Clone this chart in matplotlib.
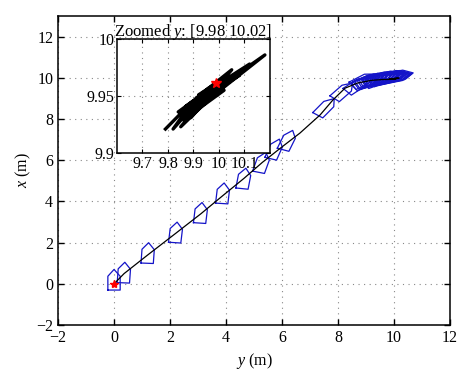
import numpy as np
import matplotlib
matplotlib.use("Agg")
import matplotlib.pyplot as plt

plt.rcParams['font.family'] = ['Liberation Serif', 'DejaVu Serif']
plt.rcParams['mathtext.fontset'] = 'custom'
plt.rcParams['mathtext.rm'] = 'Liberation Serif'
plt.rcParams['mathtext.it'] = 'Liberation Serif:italic'

# trajectory (horizontal = y, vertical = x)
traj_y = [0.0, 0.36, 1.2, 2.2, 3.1, 3.9, 4.64, 5.3, 6.0, 6.64, 7.36, 7.82, 8.25,
          8.7, 9.2, 9.6, 9.79]
traj_x = [0.0, 0.5, 1.4, 2.45, 3.4, 4.3, 5.12, 5.9, 6.65, 7.32, 8.2, 8.93, 9.5,
          9.75, 9.88, 9.92, 9.921]

# final jitter around the goal (seen in the zoomed inset)
jit_y = [9.79, 9.90, 9.82, 9.95, 9.84, 9.97, 9.85, 9.99, 9.87, 10.02, 9.86,
         9.96, 9.89, 10.05, 9.91, 10.12, 9.93, 10.18, 9.95, 10.08, 9.92, 10.03,
         9.94, 9.99]
jit_x = [9.921, 9.946, 9.921, 9.954, 9.936, 9.949, 9.923, 9.960, 9.941, 9.955,
         9.929, 9.957, 9.931, 9.973, 9.948, 9.978, 9.942, 9.986, 9.950, 9.968,
         9.951, 9.967, 9.953, 9.961]

# vehicle poses drawn along the path: y, x, heading (deg from +x toward +y)
pose_y = [0.0, 0.36, 1.21, 2.21, 3.1, 3.89, 4.64, 5.29, 5.75, 6.21, 7.57, 8.2,
          8.7, 8.93, 9.0, 9.08, 9.15, 9.22, 9.3, 9.36, 9.42, 9.48, 9.54, 9.6,
          9.65, 9.7, 9.75, 9.8, 9.85, 9.9, 9.95, 10.0, 10.05, 10.1, 10.15,
          10.2, 9.88, 9.78, 9.68, 9.98, 10.08, 9.58, 9.45]
pose_x = [0.2, 0.55, 1.5, 2.5, 3.45, 4.4, 5.12, 5.9, 6.55, 6.98, 8.59, 9.37,
          9.66, 9.9, 9.82, 9.88, 9.86, 9.92, 9.9, 9.96, 9.93, 9.98, 9.95, 10.0,
          9.99, 10.03, 10.0, 10.05, 10.02, 10.06, 10.04, 10.08, 10.06, 10.1,
          10.08, 10.12, 10.0, 10.06, 9.96, 10.1, 10.04, 10.02, 9.9]
pose_h = [0, 3, 3, 5, 5, 5, 8, 15, 18, 20, 36, 40, 48, 55, 58, 60, 62, 63, 65,
          66, 66, 68, 68, 70, 70, 70, 72, 72, 72, 74, 74, 74, 75, 75, 76, 76,
          72, 70, 68, 76, 75, 68, 64]

# vehicle outline in body frame (forward, lateral)
body_f = np.array([-0.5, 0.17, 0.5, 0.17, -0.5, -0.5])
body_l = np.array([-0.22, -0.22, 0.0, 0.22, 0.22, -0.22])

fig = plt.figure(figsize=(4.74, 3.87), dpi=100)
ax = fig.add_axes([0.1224, 0.160, 0.827, 0.7985])

blue = '#1414c8'
for py, px, h in zip(pose_y, pose_x, pose_h):
    t = np.deg2rad(h)
    xs = px + body_f * np.cos(t) - body_l * np.sin(t)
    ys = py + body_f * np.sin(t) + body_l * np.cos(t)
    ax.plot(ys, xs, color=blue, lw=0.9, zorder=3)

ax.plot(traj_y + jit_y, traj_x + jit_x, color='black', lw=0.9, zorder=4)
ax.plot([traj_y[0]], [traj_x[0]], marker='*', color='red', ms=6, ls='none', zorder=5)

ax.set_xlim(-2, 12)
ax.set_ylim(-2, 13)
ax.set_xticks(range(-2, 13, 2))
ax.set_yticks(range(-2, 13, 2))
ax.grid(True, color='#888888', linestyle=(0, (1, 4)), lw=0.8)
ax.tick_params(direction='in', top=True, right=True, length=4, labelsize=11.5,
               width=1)
for s in ax.spines.values():
    s.set_linewidth(1.1)
ax.set_xlabel('$y$ (m)', fontsize=11.5)
ax.set_ylabel('$x$ (m)', fontsize=11.5, labelpad=2)

# inset
ins = fig.add_axes([0.2468, 0.6047, 0.3228, 0.2946])
ins.plot(jit_y, jit_x, color='black', lw=2.4)
ins.plot([jit_y[-1]], [jit_x[-1]], marker='*', color='red', ms=7, ls='none')
ins.set_xlim(9.6, 10.2)
ins.set_ylim(9.9, 10.0)
ins.set_xticks([9.7, 9.8, 9.9, 10.0, 10.1])
ins.set_xticklabels(['9.7', '9.8', '9.9', '10', '10.1'])
ins.set_yticks([9.9, 9.95, 10.0])
ins.set_yticklabels(['9.9', '9.95', '10'])
ins.grid(True, color='#888888', linestyle=(0, (1, 4)), lw=0.8)
ins.tick_params(direction='in', top=True, right=True, length=3, labelsize=11.5,
                pad=2)
for s in ins.spines.values():
    s.set_linewidth(1.1)
ins.set_title('Zoomed $y$: [9.98 10.02]', fontsize=12, pad=2)

fig.savefig('out.png', dpi=100)
